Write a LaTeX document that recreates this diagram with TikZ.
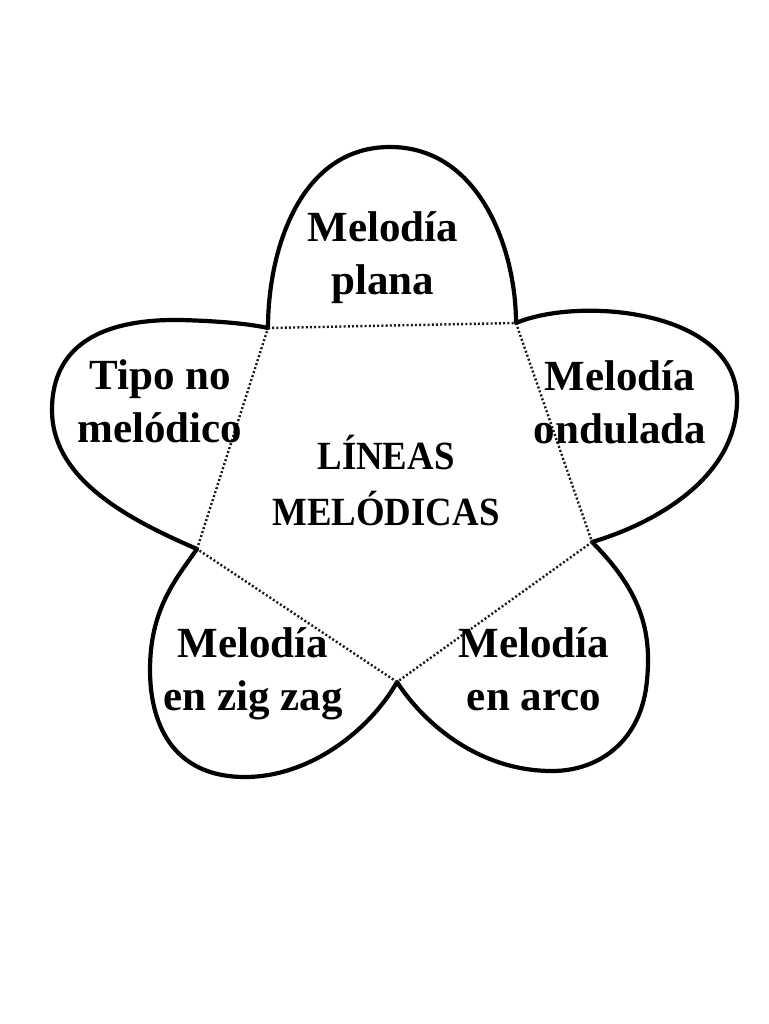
\documentclass[tikz,border=0pt]{standalone}
\usepackage{fontspec}
\usepackage{graphicx}
\setmainfont{Liberation Serif}
\newcommand{\narrowline}[1]{\scalebox{0.92}[1]{#1}}
\begin{document}
\begin{tikzpicture}[x=1pt,y=-1pt,
  outline/.style={line width=4.2pt, line join=round, line cap=round, draw=black},
  divider/.style={line width=2.4pt, draw=black!90, dash pattern=on 2pt off 2.2pt},
  petaltext/.style={align=center, inner sep=0pt, font=\bfseries\fontsize{43}{53}\selectfont},
  centretext/.style={align=center, inner sep=0pt, font=\bfseries\fontsize{40}{56}\selectfont}]
\useasboundingbox[fill=white] (0,0) rectangle (768,1024);
% pentagon vertices
\coordinate (A) at (268,328);
\coordinate (B) at (516,323);
\coordinate (C) at (592,542);
\coordinate (D) at (397,682);
\coordinate (E) at (197,549);
% petals outline
\draw[outline] (A) .. controls (268,250) and (300,147) .. (390,147)
  .. controls (480,147) and (516,250) .. (B)
  .. controls (580,296) and (737,310) .. (737,400)
  .. controls (737,480) and (650,525) .. (C)
  .. controls (640,590) and (652,630) .. (647,680)
  .. controls (642,740) and (600,771) .. (552,771)
  .. controls (480,771) and (425,725) .. (D)
  .. controls (370,730) and (310,777) .. (245,777)
  .. controls (170,777) and (150,720) .. (150,670)
  .. controls (150,610) and (175,580) .. (E)
  .. controls (130,520) and (52,480) .. (52,410)
  .. controls (52,340) and (110,319) .. (180,320)
  .. controls (220,321) and (250,324) .. (A);
% dotted pentagon
\draw[divider] (A) -- (B);
\draw[divider] (B) -- (C);
\draw[divider] (C) -- (D);
\draw[divider] (D) -- (E);
\draw[divider] (E) -- (A);
% labels
\node[petaltext] (top) at (383,258) {Melodía\\plana};
\node[petaltext] (left) at (160,401) {Tipo no\\melódico};
\node[petaltext] (right) at (620,402) {Melodía\\ondulada};
\node[petaltext] (bl) at (253,674) {Melodía\\en zig zag};
\node[petaltext] (br) at (534,669) {Melodía\\en arco};
\node[centretext] (centre) at (386,481) {\narrowline{LÍNEAS}\\\narrowline{MELÓDICAS}};
\end{tikzpicture}
\end{document}
